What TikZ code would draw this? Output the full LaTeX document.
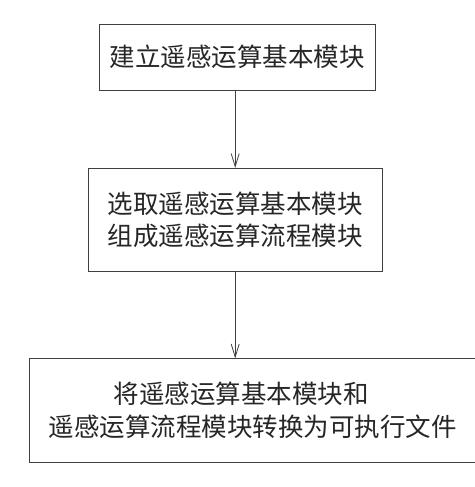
\documentclass[tikz,border=0pt]{standalone}
\usepackage{fontspec}
\newfontfamily\cjk{Noto Sans CJK SC}
\usetikzlibrary{arrows.meta}

\begin{document}
\begin{tikzpicture}[x=1pt, y=-1pt, line width=0.8pt,
  box/.style={draw=black!75, rectangle, inner sep=0pt, align=center,
    text=black!85, font=\cjk\fontsize{25.5}{32.5}\selectfont},
  arr/.style={draw=black!75, -{Straight Barb[length=13pt,width=8pt]}}]
\useasboundingbox (0,0) rectangle (474,487);
\node[box, minimum width=276pt, minimum height=65.7pt] (s1) at (237.3,57.2) {建立遥感运算基本模块};
\node[box, minimum width=293.7pt, minimum height=102.7pt] (s2) at (235.2,219.7) {选取遥感运算基本模块\\组成遥感运算流程模块};
\node[box, minimum width=446.7pt, minimum height=103.3pt] (s3) at (252.7,410.4) {将遥感运算基本模块和\hspace*{0.9em}\\遥感运算流程模块转换为可执行文件};
\draw[arr] (s2.north |- s1.south) -- (s2.north);
\draw[arr] (s2.south) -- (s2.south |- s3.north);
\end{tikzpicture}
\end{document}
